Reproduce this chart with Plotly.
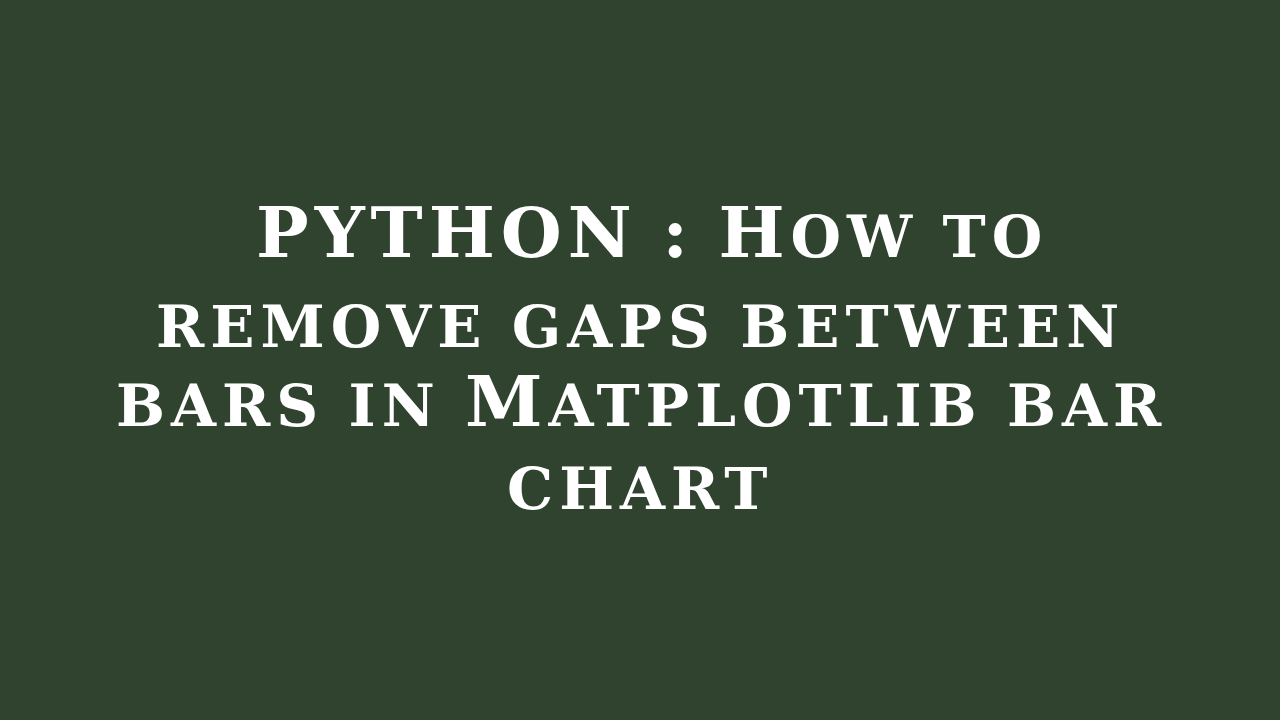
import plotly.graph_objects as go

# Title card text, one entry per line
title_lines = [
    "PYTHON : How to",
    "remove gaps between",
    "bars in Matplotlib bar",
    "chart",
]
line_y = [233, 322, 401, 489]  # vertical centre of each line, px from top
line_x = [652, 640, 641, 640]  # horizontal centre of each line, px

BG = "#2f432f"
BIG = 70
SMALL = 58
SPACING = 6


def small_caps(text):
    # fake Copperplate-style small caps: lowercase -> smaller capitals
    out = []
    for ch in text:
        if ch.islower():
            out.append(f"<span style='font-size:{SMALL}px'>{ch.upper()}</span>")
        elif ch == " ":
            out.append("<span style='letter-spacing:0px'> </span>")
        else:
            out.append(ch)
    return f"<span style='letter-spacing:{SPACING}px'>" + "".join(out) + "</span>"


fig = go.Figure()

for line, x, y in zip(title_lines, line_x, line_y):
    fig.add_annotation(
        text=small_caps(line),
        x=x / 1280, y=1 - y / 720,
        xref="paper", yref="paper",
        xanchor="center", yanchor="middle",
        showarrow=False,
        font=dict(family="DejaVu Serif", size=BIG, color="white", weight="bold"),
    )

fig.update_layout(
    width=1280, height=720,
    margin=dict(l=0, r=0, t=0, b=0),
    paper_bgcolor=BG, plot_bgcolor=BG,
    xaxis=dict(visible=False, range=[0, 1]),
    yaxis=dict(visible=False, range=[0, 1]),
    showlegend=False,
)

fig.write_html(
    "out.html",
    config={"displayModeBar": False},
    post_script=f"document.body.style.margin='0';document.body.style.background='{BG}';",
)
